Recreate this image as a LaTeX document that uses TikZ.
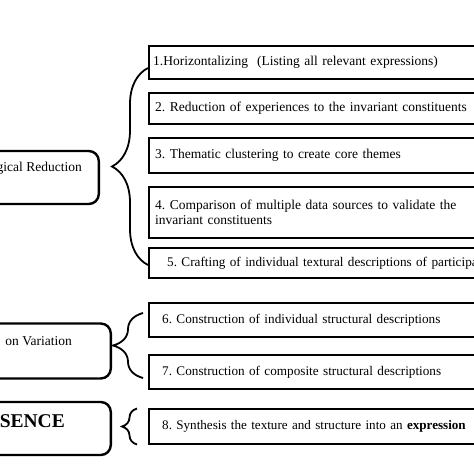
\documentclass[tikz,border=0pt]{standalone}
\usepackage{fontspec}
\setmainfont{Liberation Serif}
\usetikzlibrary{positioning,decorations.pathreplacing}
\frenchspacing

\begin{document}
\begin{tikzpicture}[x=1pt,y=-1pt,
  stepbox/.style={draw,line width=2.4pt,anchor=west,text width=420pt,align=left,inner xsep=6pt,font=\fontsize{13.5}{15}\selectfont},
  phase/.style={draw,line width=2.4pt,rounded corners=10pt,anchor=east,minimum width=180pt},
  phasetxt/.style={anchor=mid east,inner sep=0pt,font=\fontsize{13.5}{16}\selectfont},
  brc/.style={decorate,line width=1.8pt,decoration={brace,amplitude=#1}}]
\clip (0,0) rectangle (474,474);

% steps on the right
\path
(148,62.5)  node[stepbox,minimum height=33pt,inner xsep=4pt] (s1) {1.Horizontalizing\ \ (Listing all relevant expressions)}
(148,108.5) node[stepbox,minimum height=31pt] (s2) {2. Reduction of experiences to the invariant constituents}
(148,155.5) node[stepbox,minimum height=35pt] (s3) {3. Thematic clustering to create core themes}
(148,212.5) node[stepbox,minimum height=51pt] (s4) {4. Comparison of multiple data sources to validate the\\invariant constituents}
(148,263)   node[stepbox,minimum height=30pt,inner xsep=18pt,font=\fontsize{13.2}{15}\selectfont] (s5) {5. Crafting of individual textural descriptions of participants}
(148,320)   node[stepbox,minimum height=34pt,inner xsep=13pt,font=\fontsize{13.2}{15}\selectfont] (s6) {6. Construction of individual structural descriptions}
(148,372)   node[stepbox,minimum height=34pt,inner xsep=13pt,font=\fontsize{13.2}{15}\selectfont] (s7) {7. Construction of composite structural descriptions}
(148,426.5) node[stepbox,minimum height=35pt,inner xsep=13pt,font=\fontsize{13.1}{15}\selectfont] (s8) {8. Synthesis the texture and structure into an \textbf{expression}};

% phases on the left
\path
(100,177.5) node[phase,minimum height=53pt] (red) {}
(82,169)    node[phasetxt] (redT) {gical Reduction}
(112,351)   node[phase,minimum height=55pt] (var) {}
(72,343)    node[phasetxt] (varT) {on Variation}
(112,428.5) node[phase,minimum height=53pt] (ess) {}
(65,425)    node[phasetxt,font=\fontsize{19.5}{22}\bfseries] (essT) {SENCE};

\draw[brc=36pt] ([yshift=-2pt]s5.west) -- ([yshift=-5.5pt]s1.west);
\draw[brc=30pt] ([xshift=-5pt,yshift=-6pt]s7.west) -- ([xshift=-5pt,yshift=7pt]s6.west);
\draw[brc=15pt] ([xshift=-11pt,yshift=-18pt]s8.west) -- ([xshift=-11pt,yshift=18pt]s8.west);
\end{tikzpicture}
\end{document}
